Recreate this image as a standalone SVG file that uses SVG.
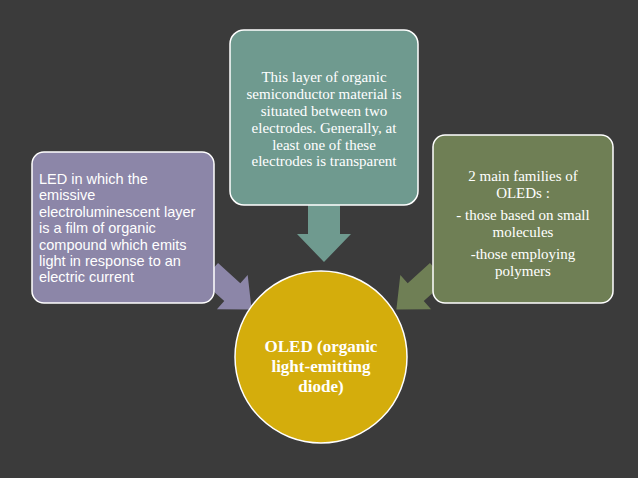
<svg xmlns="http://www.w3.org/2000/svg" width="638" height="478" viewBox="0 0 638 478">
<style>
.box{stroke:#fff;stroke-width:1.5}
.t{font-family:"Liberation Serif",serif;font-size:15px;fill:#fff;text-anchor:middle}
.s{font-family:"Liberation Sans",sans-serif;font-size:14.5px;fill:#fff}
.c{font-family:"Liberation Serif",serif;font-size:17px;font-weight:bold;fill:#fff;text-anchor:middle}
</style>
<defs>
<polygon id="arr" points="0,-12 30,-12 30,-23 56,0 30,23 30,12 0,12"/>
</defs>
<rect width="638" height="478" fill="#3b3b3b"/>
<g id="connectors">
<polygon points="308,205 340,205 340,234 351,234 324,262 297,234 308,234" fill="#6f9a8f"/>
<use href="#arr" transform="translate(210,272) rotate(42)" fill="#8c86a8"/>
<use href="#arr" transform="translate(438,272) rotate(138)" fill="#6f7f55"/>
</g>
<g id="top">
<rect class="box" x="230" y="30" width="188" height="175" rx="14" fill="#6f9a8f"/>
<text class="t"><tspan x="324" y="82">This layer of organic</tspan><tspan x="324" y="99">semiconductor material is</tspan><tspan x="324" y="116">situated between two</tspan><tspan x="324" y="133">electrodes. Generally, at</tspan><tspan x="324" y="150">least one of these</tspan><tspan x="324" y="166">electrodes is transparent</tspan></text>
</g>
<g id="left">
<rect class="box" x="32" y="152" width="182" height="151" rx="12" fill="#8c86a8"/>
<text class="s"><tspan x="39" y="184">LED in which the</tspan><tspan x="39" y="200">emissive</tspan><tspan x="39" y="217">electroluminescent layer</tspan><tspan x="39" y="233">is a film of organic</tspan><tspan x="39" y="250">compound which emits</tspan><tspan x="39" y="266">light in response to an</tspan><tspan x="39" y="282">electric current</tspan></text>
</g>
<g id="right">
<rect class="box" x="433" y="135" width="180" height="168" rx="12" fill="#6f7f55"/>
<text class="t"><tspan x="523" y="181">2 main families of</tspan><tspan x="523" y="198">OLEDs :</tspan><tspan x="523" y="220">- those based on small</tspan><tspan x="523" y="237">molecules</tspan><tspan x="523" y="259">-those employing</tspan><tspan x="523" y="276">polymers</tspan></text>
</g>
<g id="center">
<circle class="box" cx="321" cy="357" r="86" fill="#d4ad0c"/>
<text class="c"><tspan x="321" y="352">OLED (organic</tspan><tspan x="321" y="372">light-emitting</tspan><tspan x="321" y="392">diode)</tspan></text>
</g>
</svg>
